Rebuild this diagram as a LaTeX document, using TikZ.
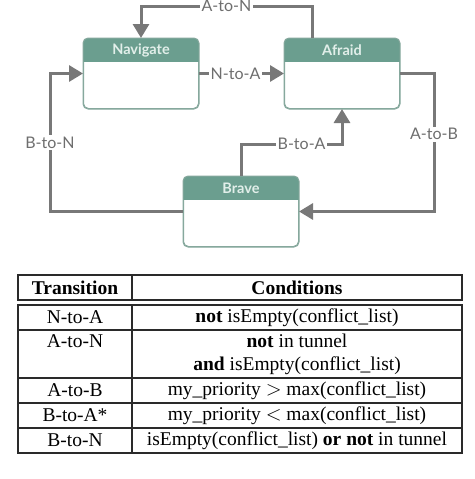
\documentclass[tikz,border=0pt]{standalone}
\usepackage{fontspec}
\setmainfont{Liberation Serif}
\newfontfamily\diag{Lato}
\usetikzlibrary{arrows.meta}

\definecolor{hdr}{HTML}{6B9E8F}
\definecolor{bord}{HTML}{86A89D}
\definecolor{conncol}{HTML}{787878}
\definecolor{labcol}{HTML}{6E6E6E}
\definecolor{hdrtxt}{HTML}{E2EFEA}
\definecolor{rule}{HTML}{2A2A2A}

\tikzset{
 statebox/.style={draw=bord, line width=1pt, rounded corners=5pt, fill=white,
   minimum width=115pt, minimum height=70pt, anchor=north west, inner sep=0pt},
 conn/.style={draw=conncol, line width=3pt},
 arr/.style={-{Triangle[length=14pt,width=16pt]}},
 lab/.style={fill=white, text=labcol, font=\diag\fontsize{16}{16}\selectfont, inner sep=1.5pt},
 hdrlab/.style={text=hdrtxt, font=\diag\bfseries\fontsize{14.5}{14.5}\selectfont},
 tline/.style={draw=rule, line width=1.2pt},
 ttext/.style={font=\fontsize{19.5}{19.5}\selectfont, inner sep=0pt},
}

\newcommand{\statebox}[3]{%
  \node[statebox] (#1) at (#2) {};
  \begin{scope}
    \clip[rounded corners=5pt] (#1.north west) rectangle (#1.south east);
    \fill[hdr] (#1.north west) rectangle ([yshift=-24pt]#1.north east);
  \end{scope}
  \draw[bord, line width=1pt, rounded corners=5pt] (#1.north west) rectangle (#1.south east);
  \node[hdrlab] (#1-title) at ([yshift=-12pt]#1.north) {#3};
}

\begin{document}
\begin{tikzpicture}[x=1pt, y=-1pt]
\useasboundingbox (0,0) rectangle (474,479);

\statebox{nav}{83,38}{Navigate}
\statebox{afr}{284,38}{Afraid}
\statebox{brv}{183,176}{Brave}

% connectors
\draw[conn, arr] ([xshift=-30pt]afr.north) -- ([xshift=-30pt, yshift=32pt]afr.north)
   -| node[lab, pos=0.25] {A-to-N} (nav.north);
\draw[conn, arr] (nav.east) -- node[lab, pos=0.43] {N-to-A} (afr.west);
\draw[conn, arr] (brv.west) -| node[lab, pos=0.75] {B-to-N} ([xshift=-33pt]nav.west) -- (nav.west);
\draw[conn, arr] (afr.east) -- ([xshift=34pt]afr.east) |- node[lab, pos=0.22] {A-to-B} (brv.east);
\draw[conn, arr] (brv.north) -- ([yshift=32pt]brv.north) -| node[lab, pos=0.3] {B-to-A} (afr.south);

% table
\draw[tline] (18,275) rectangle (462,300);
\draw[tline] (18,305) rectangle (462,453);
\draw[tline] (132,275) -- (132,300);
\draw[tline] (132,305) -- (132,453);
\draw[tline] (18,330) -- (462,330);
\draw[tline] (18,378) -- (462,378);
\draw[tline] (18,403) -- (462,403);
\draw[tline] (18,428) -- (462,428);

\node[ttext] (h1) at (75,287.5) {\textbf{Transition}};
\node[ttext] (h2) at (297,287.5) {\textbf{Conditions}};
\node[ttext] (r1a) at (75,317.5) {N-to-A};
\node[ttext] (r1b) at (297,317.5) {\textbf{not} isEmpty(conflict\_list)};
\node[ttext] (r2a) at (75,341) {A-to-N};
\node[ttext] (r2b) at (297,341) {\textbf{not} in tunnel};
\node[ttext] (r2c) at (297,365.5) {\textbf{and} isEmpty(conflict\_list)};
\node[ttext] (r3a) at (75,390.5) {A-to-B};
\node[ttext] (r3b) at (297,390.5) {my\_priority $>$ max(conflict\_list)};
\node[ttext] (r4a) at (75,415.5) {B-to-A*};
\node[ttext] (r4b) at (297,415.5) {my\_priority $<$ max(conflict\_list)};
\node[ttext] (r5a) at (75,440.5) {B-to-N};
\node[ttext] (r5b) at (297,440.5) {isEmpty(conflict\_list) \textbf{or} \textbf{not} in tunnel};
\end{tikzpicture}
\end{document}
